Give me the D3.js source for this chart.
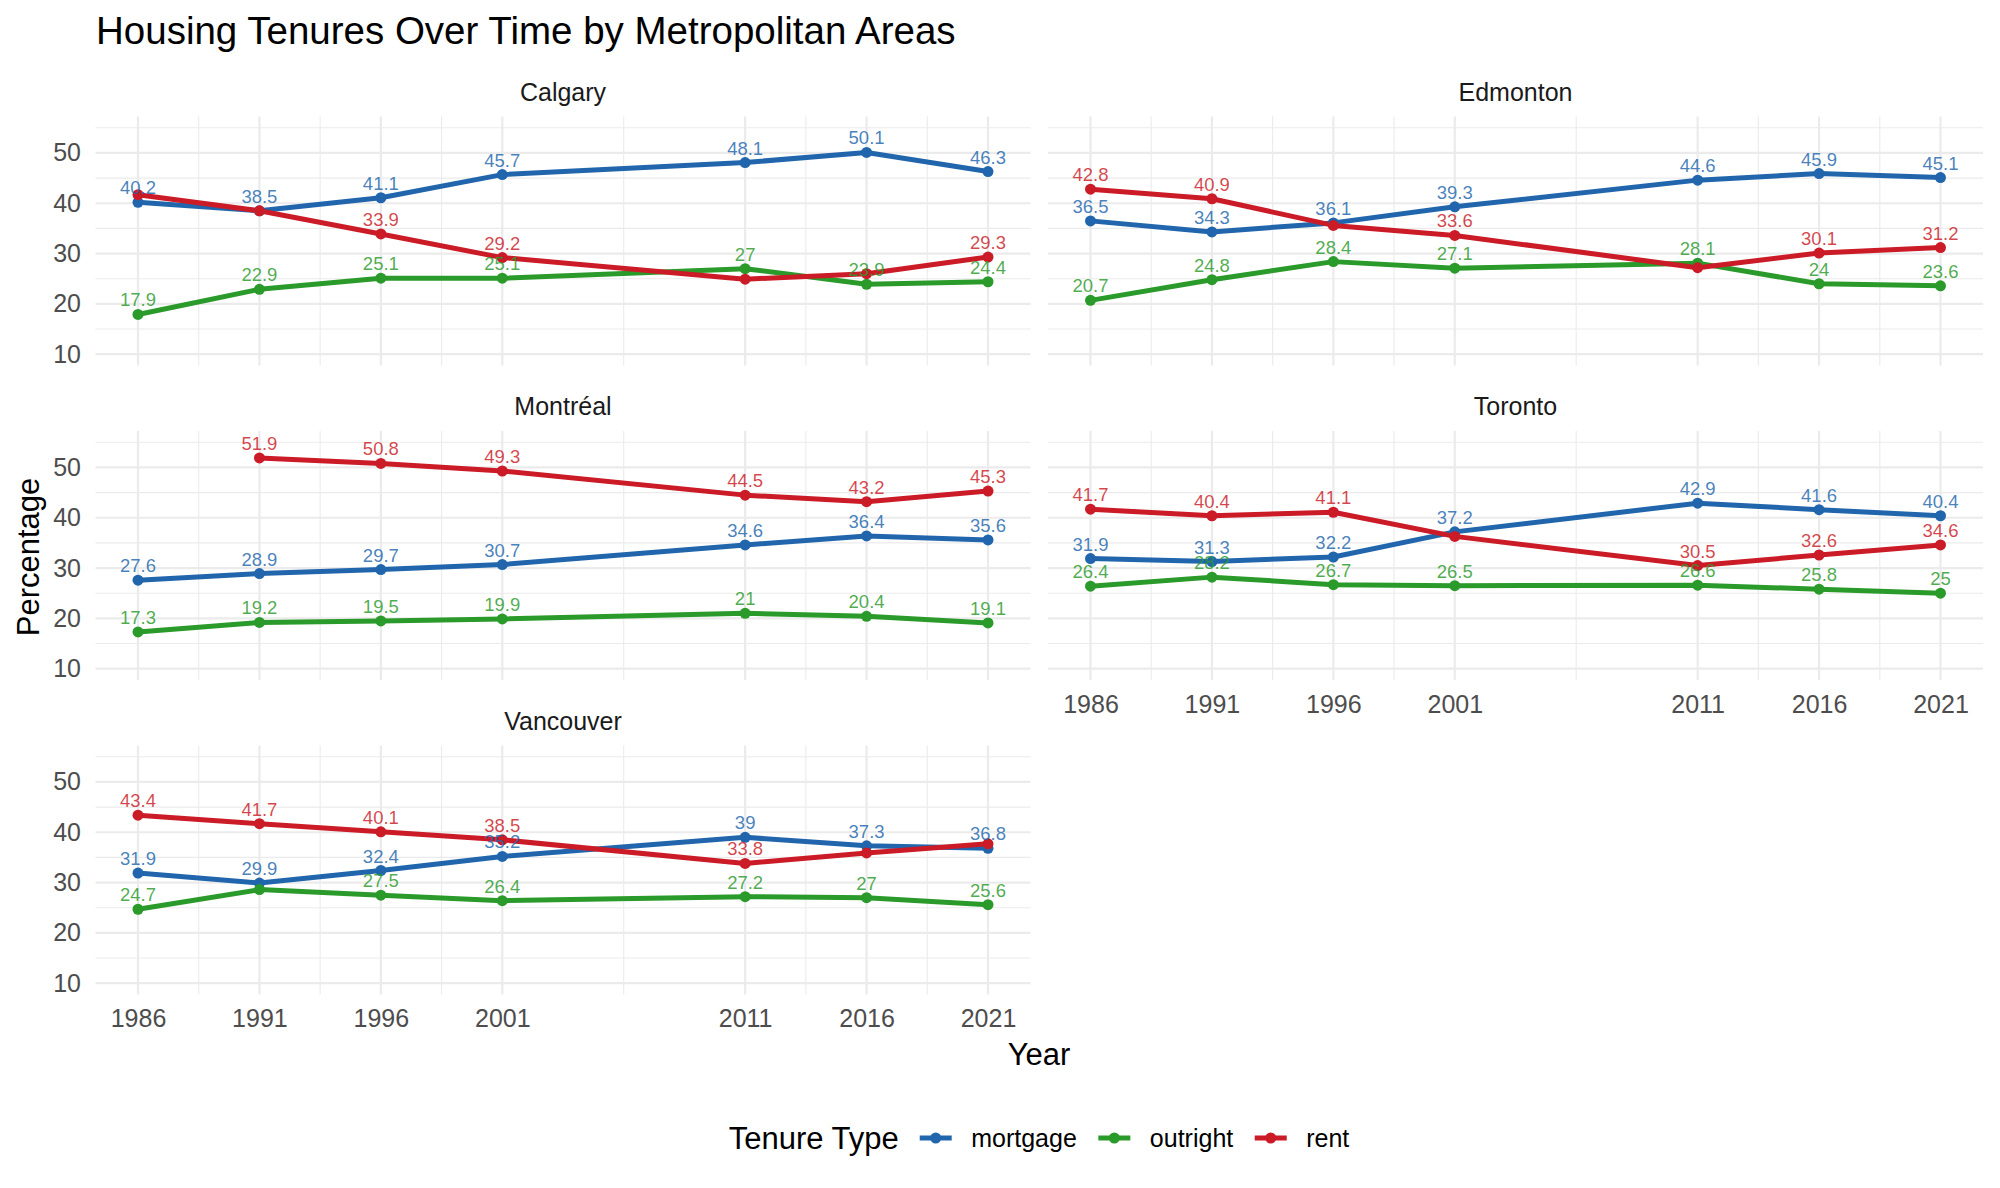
<!DOCTYPE html>
<html>
<head>
<meta charset="utf-8">
<script src="https://cdn.jsdelivr.net/npm/d3@7"></script>
<style>
  body { margin: 0; background: #fff; }
  text { font-family: "Liberation Sans", Arial, sans-serif; }
</style>
</head>
<body>
<div id="chart"></div>
<script>
var years = [1986, 1991, 1996, 2001, 2011, 2016, 2021];
var cities = ["Calgary", "Edmonton", "Montréal", "Toronto", "Vancouver"];
var tenures = ["mortgage", "outright", "rent"];
var colors = ["#2166ac", "#2a9a2a", "#cb1b27"];
var yTicks = [10, 20, 30, 40, 50];

// one row per city, same order as cities
var mortgageValues = [
    [40.2, 38.5, 41.1, 45.7, 48.1, 50.1, 46.3],
    [36.5, 34.3, 36.1, 39.3, 44.6, 45.9, 45.1],
    [27.6, 28.9, 29.7, 30.7, 34.6, 36.4, 35.6],
    [31.9, 31.3, 32.2, 37.2, 42.9, 41.6, 40.4],
    [31.9, 29.9, 32.4, 35.2, 39, 37.3, 36.8]
];
var outrightValues = [
    [17.9, 22.9, 25.1, 25.1, 27, 23.9, 24.4],
    [20.7, 24.8, 28.4, 27.1, 28.1, 24, 23.6],
    [17.3, 19.2, 19.5, 19.9, 21, 20.4, 19.1],
    [26.4, 28.2, 26.7, 26.5, 26.6, 25.8, 25],
    [24.7, 28.6, 27.5, 26.4, 27.2, 27, 25.6]
];
var rentValues = [
    [41.7, 38.5, 33.9, 29.2, 24.9, 26.0, 29.3],
    [42.8, 40.9, 35.6, 33.6, 27.2, 30.1, 31.2],
    [null, 51.9, 50.8, 49.3, 44.5, 43.2, 45.3],
    [41.7, 40.4, 41.1, 36.3, 30.5, 32.6, 34.6],
    [43.4, 41.7, 40.1, 38.5, 33.8, 35.9, 37.7]
];
var seriesValues = [mortgageValues, outrightValues, rentValues];

var width = 2000, height = 1188;
var panelW = 935, panelH = 249;
var colX = [95.5, 1048];
var rowY = [116.5, 431, 745.5];

var x = d3.scaleLinear().domain([1984.25, 2022.75]).range([0, panelW]);
var y = d3.scaleLinear().domain([7.75, 57.25]).range([panelH, 0]);
var color = d3.scaleOrdinal().domain(tenures).range(colors);

var minorX = [];
for (var i = 0; i < years.length - 1; i++) minorX.push((years[i] + years[i + 1]) / 2);
var minorY = [15, 25, 35, 45, 55];

var svg = d3.select("#chart").append("svg")
    .attr("width", width)
    .attr("height", height);

svg.append("text")
    .text("Housing Tenures Over Time by Metropolitan Areas")
    .attr("x", 96)
    .attr("y", 44)
    .style("font-size", "38.5px")
    .style("fill", "#000");

var line = d3.line()
    .defined(function(d) { return d.value != null; })
    .x(function(d) { return x(d.year); })
    .y(function(d) { return y(d.value); });

cities.forEach(function(city, ci) {
    var col = ci % 2, row = Math.floor(ci / 2);
    var g = svg.append("g")
        .attr("transform", "translate(" + colX[col] + "," + rowY[row] + ")");

    // grid
    g.selectAll(".minor-y").data(minorY).enter().append("line")
        .attr("x1", 0).attr("x2", panelW)
        .attr("y1", function(d) { return y(d); }).attr("y2", function(d) { return y(d); })
        .style("stroke", "#ebebeb").style("stroke-width", 1.1);
    g.selectAll(".minor-x").data(minorX).enter().append("line")
        .attr("y1", 0).attr("y2", panelH)
        .attr("x1", function(d) { return x(d); }).attr("x2", function(d) { return x(d); })
        .style("stroke", "#ebebeb").style("stroke-width", 1.1);
    g.selectAll(".major-y").data(yTicks).enter().append("line")
        .attr("x1", 0).attr("x2", panelW)
        .attr("y1", function(d) { return y(d); }).attr("y2", function(d) { return y(d); })
        .style("stroke", "#ebebeb").style("stroke-width", 2.2);
    g.selectAll(".major-x").data(years).enter().append("line")
        .attr("y1", 0).attr("y2", panelH)
        .attr("x1", function(d) { return x(d); }).attr("x2", function(d) { return x(d); })
        .style("stroke", "#ebebeb").style("stroke-width", 2.2);

    // strip
    g.append("text")
        .text(city)
        .attr("x", panelW / 2)
        .attr("y", -16)
        .attr("text-anchor", "middle")
        .style("font-size", "25px")
        .style("fill", "#1a1a1a");

    // y axis only on left column
    if (col == 0) {
        var ya = g.append("g").call(d3.axisLeft(y).tickValues(yTicks).tickSize(0).tickPadding(14.5));
        ya.select(".domain").remove();
        ya.selectAll("text").style("font-size", "25px").style("fill", "#4d4d4d")
            .style("font-family", "Liberation Sans, Arial, sans-serif");
    }
    // x axis on the bottom panel of each column
    if (ci == 3 || ci == 4) {
        var xa = g.append("g").attr("transform", "translate(0," + panelH + ")")
            .call(d3.axisBottom(x).tickValues(years).tickFormat(d3.format("d")).tickSize(0).tickPadding(15));
        xa.select(".domain").remove();
        xa.selectAll("text").style("font-size", "25px").style("fill", "#4d4d4d")
            .style("font-family", "Liberation Sans, Arial, sans-serif");
    }

    var series = tenures.map(function(t, ti) {
        return {
            tenure: t,
            values: years.map(function(yr, yi) { return { year: yr, value: seriesValues[ti][ci][yi] }; })
        };
    });

    series.forEach(function(s) {
        g.append("path")
            .datum(s.values)
            .attr("d", line)
            .style("fill", "none")
            .style("stroke", color(s.tenure))
            .style("stroke-width", 5)
            .style("stroke-linejoin", "round");
    });
    series.forEach(function(s) {
        g.selectAll(null)
            .data(s.values.filter(function(d) { return d.value != null; }))
            .enter().append("circle")
            .attr("cx", function(d) { return x(d.year); })
            .attr("cy", function(d) { return y(d.value); })
            .attr("r", 5.5)
            .style("fill", color(s.tenure));
    });

    // labels, skipping any that would overlap one already drawn
    var boxes = [];
    series.forEach(function(s) {
        s.values.forEach(function(d) {
            if (d.value == null) return;
            var t = g.append("text")
                .text(String(d.value))
                .attr("x", x(d.year))
                .attr("y", y(d.value) - 8)
                .attr("text-anchor", "middle")
                .style("font-size", "18.5px")
                .style("fill", color(s.tenure))
                .style("fill-opacity", 0.82);
            var w = t.node().getComputedTextLength();
            var b = { x0: x(d.year) - w / 2, x1: x(d.year) + w / 2, y0: y(d.value) - 8 - 13.3, y1: y(d.value) - 8 };
            var hit = boxes.some(function(o) {
                return b.x0 < o.x1 && b.x1 > o.x0 && b.y0 < o.y1 && b.y1 > o.y0;
            });
            if (hit) t.remove();
            else boxes.push(b);
        });
    });
});

// axis titles
svg.append("text")
    .text("Year")
    .attr("x", 1039)
    .attr("y", 1065)
    .attr("text-anchor", "middle")
    .style("font-size", "31px")
    .style("fill", "#000");

svg.append("text")
    .text("Percentage")
    .attr("text-anchor", "middle")
    .attr("transform", "translate(39,557) rotate(-90)")
    .style("font-size", "31px")
    .style("fill", "#000");

// legend
var legend = svg.append("g");
var lx = 0, ly = 1138;
var lt = legend.append("text")
    .text("Tenure Type")
    .attr("x", lx)
    .attr("y", ly + 11)
    .style("font-size", "31px")
    .style("fill", "#000");
lx += lt.node().getComputedTextLength() + 21;
tenures.forEach(function(t, i) {
    legend.append("line")
        .attr("x1", lx).attr("x2", lx + 32)
        .attr("y1", ly).attr("y2", ly)
        .style("stroke", color(t))
        .style("stroke-width", 5);
    legend.append("circle")
        .attr("cx", lx + 16).attr("cy", ly).attr("r", 5.5)
        .style("fill", color(t));
    lx += 32 + 19.5;
    var tx = legend.append("text")
        .text(t)
        .attr("x", lx)
        .attr("y", ly + 9)
        .style("font-size", "25px")
        .style("fill", "#000");
    lx += tx.node().getComputedTextLength();
    if (i < tenures.length - 1) lx += 21.5;
});
legend.attr("transform", "translate(" + (1039 - lx / 2) + ",0)");
</script>
</body>
</html>
